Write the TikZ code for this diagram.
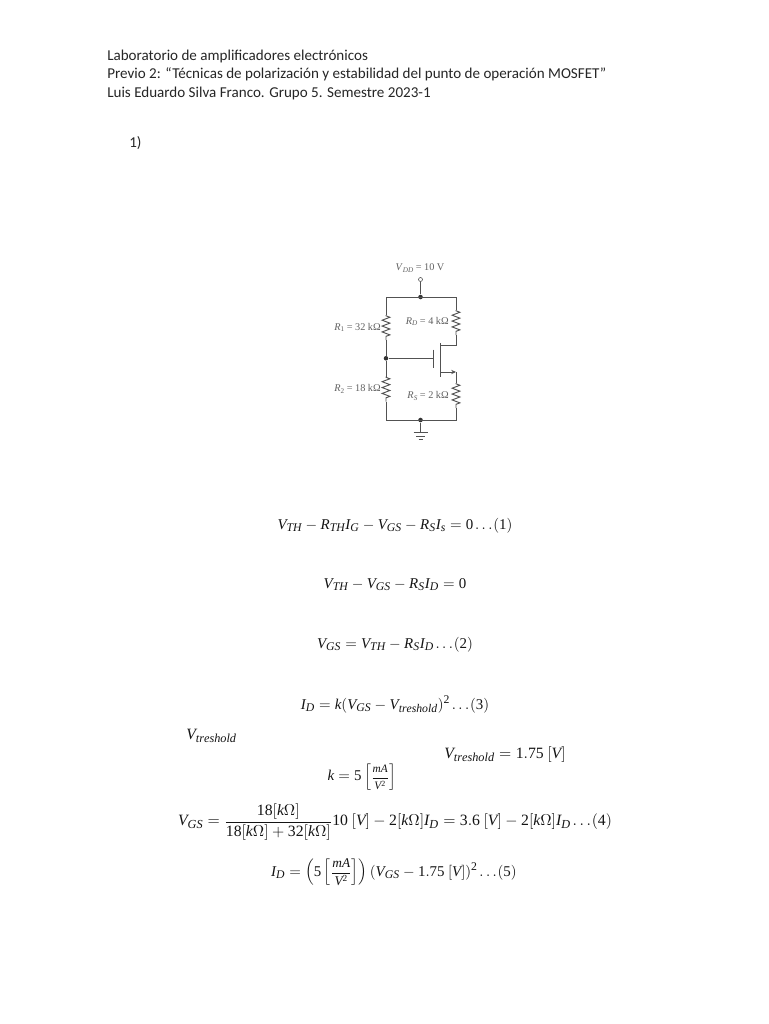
\documentclass[tikz,border=0pt]{standalone}
\usepackage{fix-cm}
\usepackage[no-math]{fontspec}
\usepackage{amsmath}
\setmainfont{Carlito}
\newfontfamily\ckt[NFSSFamily=libs]{Liberation Serif}
\DeclareSymbolFont{libit}{TU}{libs}{m}{it}
\DeclareSymbolFont{librm}{TU}{libs}{m}{n}
\DeclareMathSizes{11.2}{11.2}{8.8}{7}
\DeclareMathSizes{11.8}{11.8}{9.2}{7}
\newcommand{\setletters}[1]{\def\next{#1}\expandafter\dolet\next\relax}
\def\dolet#1{\ifx#1\relax\else\DeclareMathSymbol{#1}{\mathalpha}{libit}{`#1}\expandafter\dolet\fi}
\setletters{VTHRIGSsktrehoaldDmA}
\DeclareMathSymbol{0}{\mathalpha}{librm}{`0}
\DeclareMathSymbol{1}{\mathalpha}{librm}{`1}
\DeclareMathSymbol{2}{\mathalpha}{librm}{`2}
\DeclareMathSymbol{3}{\mathalpha}{librm}{`3}
\DeclareMathSymbol{4}{\mathalpha}{librm}{`4}
\DeclareMathSymbol{5}{\mathalpha}{librm}{`5}
\DeclareMathSymbol{6}{\mathalpha}{librm}{`6}
\DeclareMathSymbol{7}{\mathalpha}{librm}{`7}
\DeclareMathSymbol{8}{\mathalpha}{librm}{`8}
\usetikzlibrary{decorations.pathmorphing,arrows.meta}
\tikzset{
  x=0.75pt,y=-0.75pt,
  bodytext/.style={anchor=base west,inner sep=0pt,text=black!85,font=\fontsize{11.3}{13}\selectfont},
  eqn/.style={inner sep=0pt,text=black!92,font=\fontsize{11.2}{14}\selectfont},
  eqnlarge/.style={inner sep=0pt,text=black!92,font=\fontsize{11.8}{14}\selectfont},
  wire/.style={draw=black!68,line width=0.7pt},
  res/.style={wire,decorate,decoration={zigzag,segment length=4.4pt,amplitude=2.9pt,pre length=0.6pt,post length=0.6pt}},
  dotnode/.style={circle,fill=black!80,inner sep=0pt,minimum size=3.4pt},
  opennode/.style={circle,draw=black!60,fill=white,line width=0.5pt,inner sep=0pt,minimum size=3pt},
  cktlabel/.style={inner sep=0pt,text=black!62,font=\ckt\fontsize{7.7}{9}\selectfont},
}
\newcommand{\dts}{\mskip2mu{\ldotp\ldotp\ldotp}\mskip1mu}
\newcommand{\sbs}[1]{\raisebox{-0.3ex}{\fontsize{5.4}{6}\selectfont #1}}
\newcommand{\unitfrac}[1]{\hbox{\fontsize{#1}{12}\selectfont$\displaystyle\frac{mA}{V^2}$}}
\begin{document}
\begin{tikzpicture}
\useasboundingbox[fill=white] (0,0) rectangle (768,1024);
% header text
\node[bodytext] (t1) at (107,61) {Laboratorio de amplificadores electrónicos};
\node[bodytext] (t2) at (107,79) {Previo 2: “Técnicas de polarización y estabilidad del punto de operación MOSFET”};
\node[bodytext] (t3) at (107,98) {Luis Eduardo Silva Franco. Grupo 5. Semestre 2023-1};
\node[bodytext] (t4) at (129,147) {1)};
% circuit points
\node[opennode] (vdd) at (420.5,279.5) {};
\node[dotnode] (top) at (420.5,297) {};
\node[dotnode] (mid) at (386,358.3) {};
\node[dotnode] (bot) at (420.5,420) {};
\coordinate (tl) at (386,297);
\coordinate (tr) at (456,297);
\coordinate (bl) at (386,420);
\coordinate (br) at (456,420);
\coordinate (r1a) at (386,315);
\coordinate (r1b) at (386,340);
\coordinate (r2a) at (386,376.5);
\coordinate (r2b) at (386,401.5);
\coordinate (rda) at (456,310);
\coordinate (rdb) at (456,335);
\coordinate (rsa) at (456,383);
\coordinate (rsb) at (456,408);
\coordinate (dr) at (456,345);
\coordinate (so) at (456,372);
\coordinate (gp) at (433.5,358.3);
\coordinate (gt) at (433.5,349.5);
\coordinate (gb) at (433.5,368);
\coordinate (cht) at (440.7,343);
\coordinate (chb) at (440.7,377);
\coordinate (chd) at (440.7,345);
\coordinate (chs) at (440.7,372);
\coordinate (gnd) at (420.5,432.6);
% wires
\draw[wire] (vdd) -- (top);
\draw[wire] (r1a) -- (tl) -- (tr) -- (rda);
\draw[res] (r1a) -- (r1b);
\draw[wire] (r1b) -- (mid) -- (r2a);
\draw[res] (r2a) -- (r2b);
\draw[wire] (r2b) -- (bl) -- (br) -- (rsb);
\draw[res] (rda) -- (rdb);
\draw[wire] (rdb) -- (dr) -- (chd);
\draw[res] (rsa) -- (rsb);
\draw[wire] (mid) -- (gp);
\draw[wire,line width=1pt] (gt) -- (gb);
\draw[wire,line width=1pt] (cht) -- (chb);
\draw[wire,-{Stealth[length=3.6pt,width=3.2pt]}] (chs) -- (so);
\draw[wire] (so) -- (rsa);
\draw[wire] (bot) -- (gnd);
\draw[wire] (413.5,432.8) -- (427.5,432.8);
\draw[wire] (416,436) -- (425,436);
\draw[wire] (418.5,439.2) -- (422.5,439.2);
% circuit labels
\node[cktlabel] (lvdd) at (420,268) {\textit{V}\sbs{\textit{DD}} = 10 V};
\node[cktlabel,anchor=east] (lr1) at (381,327.5) {\textit{R}\sbs{1} = 32 kΩ};
\node[cktlabel,anchor=east] (lrd) at (449,321.5) {\textit{R}\sbs{\textit{D}} = 4 kΩ};
\node[cktlabel,anchor=east] (lr2) at (381,389) {\textit{R}\sbs{2} = 18 kΩ};
\node[cktlabel,anchor=east] (lrs) at (449,396) {\textit{R}\sbs{\textit{S}} = 2 kΩ};
% equations
\node[eqn] (e1) at (395,525.5) {$V_{TH}-R_{TH}I_G-V_{GS}-R_SI_s=0\dts(1)$};
\node[eqn] (e2) at (395,584.5) {$V_{TH}-V_{GS}-R_SI_D=0$};
\node[eqn] (e3) at (395,644.5) {$V_{GS}=V_{TH}-R_SI_D\dts(2)$};
\node[eqn] (e4) at (395,704.5) {$I_D=k(V_{GS}-V_{treshold})^2\dts(3)$};
\node[eqnlarge,anchor=west] (e5) at (186,736) {$V_{treshold}$};
\node[eqnlarge] (e6) at (505,754.5) {$V_{treshold}=1.75\ [V]$};
\node[eqn] (e7) at (362,777) {$k=5\left[\unitfrac{8.5}\right]$};
\node[eqnlarge] (e8) at (395,822) {$V_{GS}=\dfrac{18[k\Omega]}{18[k\Omega]+32[k\Omega]}10\ [V]-2[k\Omega]I_D=3.6\ [V]-2[k\Omega]I_D\dts(4)$};
\node[eqn] (e9) at (394,872) {$I_D=\left(5\left[\unitfrac{10}\right]\right)(V_{GS}-1.75\ [V])^2\dts(5)$};
\end{tikzpicture}
\end{document}
